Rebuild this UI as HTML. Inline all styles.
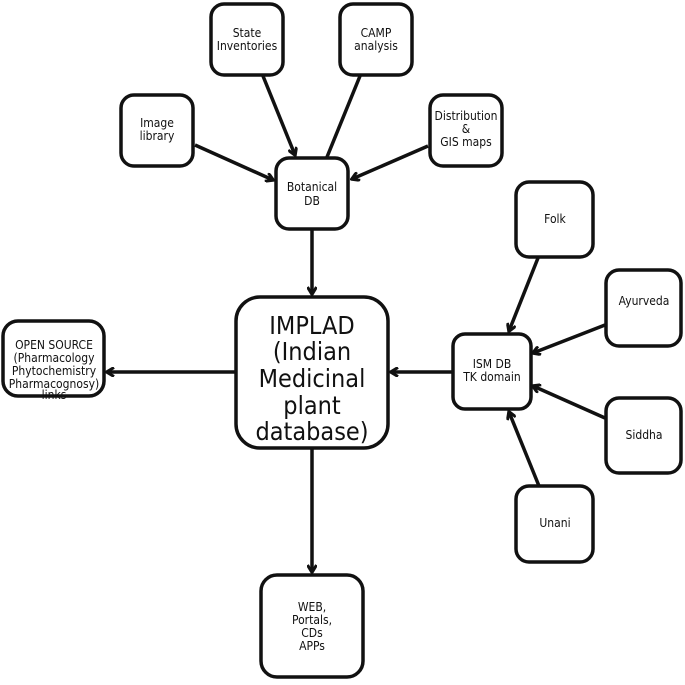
<!DOCTYPE html>
<html><head><style>
body{margin:0;width:685px;height:680px;background:#fff;overflow:hidden}
svg text{font-family:"DejaVu Sans Condensed","Liberation Sans",sans-serif;fill:#111;text-anchor:middle}
</style></head><body>
<svg width="685" height="680" viewBox="0 0 685 680">
<defs><marker id="a" markerWidth="10" markerHeight="10" refX="8" refY="5" orient="auto" markerUnits="userSpaceOnUse"><path d="M1,0.5 L8.5,5 L1,9.5" fill="none" stroke="#111" stroke-width="3"/></marker></defs>
<g fill="#fff" stroke="#111" stroke-width="3.5">
<rect x="211" y="4" width="72" height="71" rx="13"/>
<rect x="340" y="4" width="72" height="71" rx="13"/>
<rect x="121" y="95" width="72" height="71" rx="13"/>
<rect x="430" y="95" width="72" height="71" rx="13"/>
<rect x="276" y="158" width="72" height="71" rx="13"/>
<rect x="236" y="297" width="152" height="151" rx="24"/>
<rect x="3" y="321" width="101" height="75" rx="15"/>
<rect x="453" y="334" width="78" height="75" rx="12"/>
<rect x="516" y="182" width="77" height="75" rx="13"/>
<rect x="606" y="270" width="75" height="76" rx="13"/>
<rect x="606" y="398" width="75" height="75" rx="13"/>
<rect x="516" y="486" width="77" height="76" rx="13"/>
<rect x="261" y="575" width="102" height="102" rx="16"/>
</g>
<g stroke="#111" stroke-width="3.5" fill="none">
<line x1="263" y1="76" x2="295" y2="155" marker-end="url(#a)"/>
<line x1="360" y1="76" x2="327" y2="157"/>
<line x1="195" y1="145" x2="273" y2="180" marker-end="url(#a)"/>
<line x1="428" y1="146" x2="352" y2="179" marker-end="url(#a)"/>
<line x1="312" y1="230" x2="312" y2="294" marker-end="url(#a)"/>
<line x1="236" y1="372" x2="107" y2="372" marker-end="url(#a)"/>
<line x1="453" y1="372" x2="391" y2="372" marker-end="url(#a)"/>
<line x1="538" y1="258" x2="509" y2="331" marker-end="url(#a)"/>
<line x1="605" y1="325" x2="533" y2="353" marker-end="url(#a)"/>
<line x1="605" y1="418" x2="533" y2="386" marker-end="url(#a)"/>
<line x1="539" y1="486" x2="509" y2="412" marker-end="url(#a)"/>
<line x1="312" y1="448" x2="312" y2="572" marker-end="url(#a)"/>
</g>
<g font-size="12">
<text x="247" y="37">State</text><text x="247" y="50">Inventories</text>
<text x="376" y="37">CAMP</text><text x="376" y="50">analysis</text>
<text x="157" y="127">Image</text><text x="157" y="140">library</text>
<text x="466" y="120">Distribution</text><text x="466" y="133">&amp;</text><text x="466" y="146">GIS maps</text>
<text x="312" y="191">Botanical</text><text x="312" y="205">DB</text>
<text x="54" y="349">OPEN SOURCE</text><text x="54" y="362">(Pharmacology</text><text x="54" y="375">Phytochemistry</text><text x="54" y="388">Pharmacognosy)</text><text x="54" y="401" dy="-2">links</text>
<text x="492" y="368">ISM DB</text><text x="492" y="381">TK domain</text>
<text x="555" y="223">Folk</text>
<text x="644" y="305">Ayurveda</text>
<text x="644" y="439">Siddha</text>
<text x="555" y="527">Unani</text>
<text x="312" y="611">WEB,</text><text x="312" y="624">Portals,</text><text x="312" y="637">CDs</text><text x="312" y="650">APPs</text>
</g>
<g font-size="25">
<text x="312" y="334">IMPLAD</text><text x="312" y="360">(Indian</text><text x="312" y="387">Medicinal</text><text x="312" y="414">plant</text><text x="312" y="440">database)</text>
</g>
</svg>
</body></html>
